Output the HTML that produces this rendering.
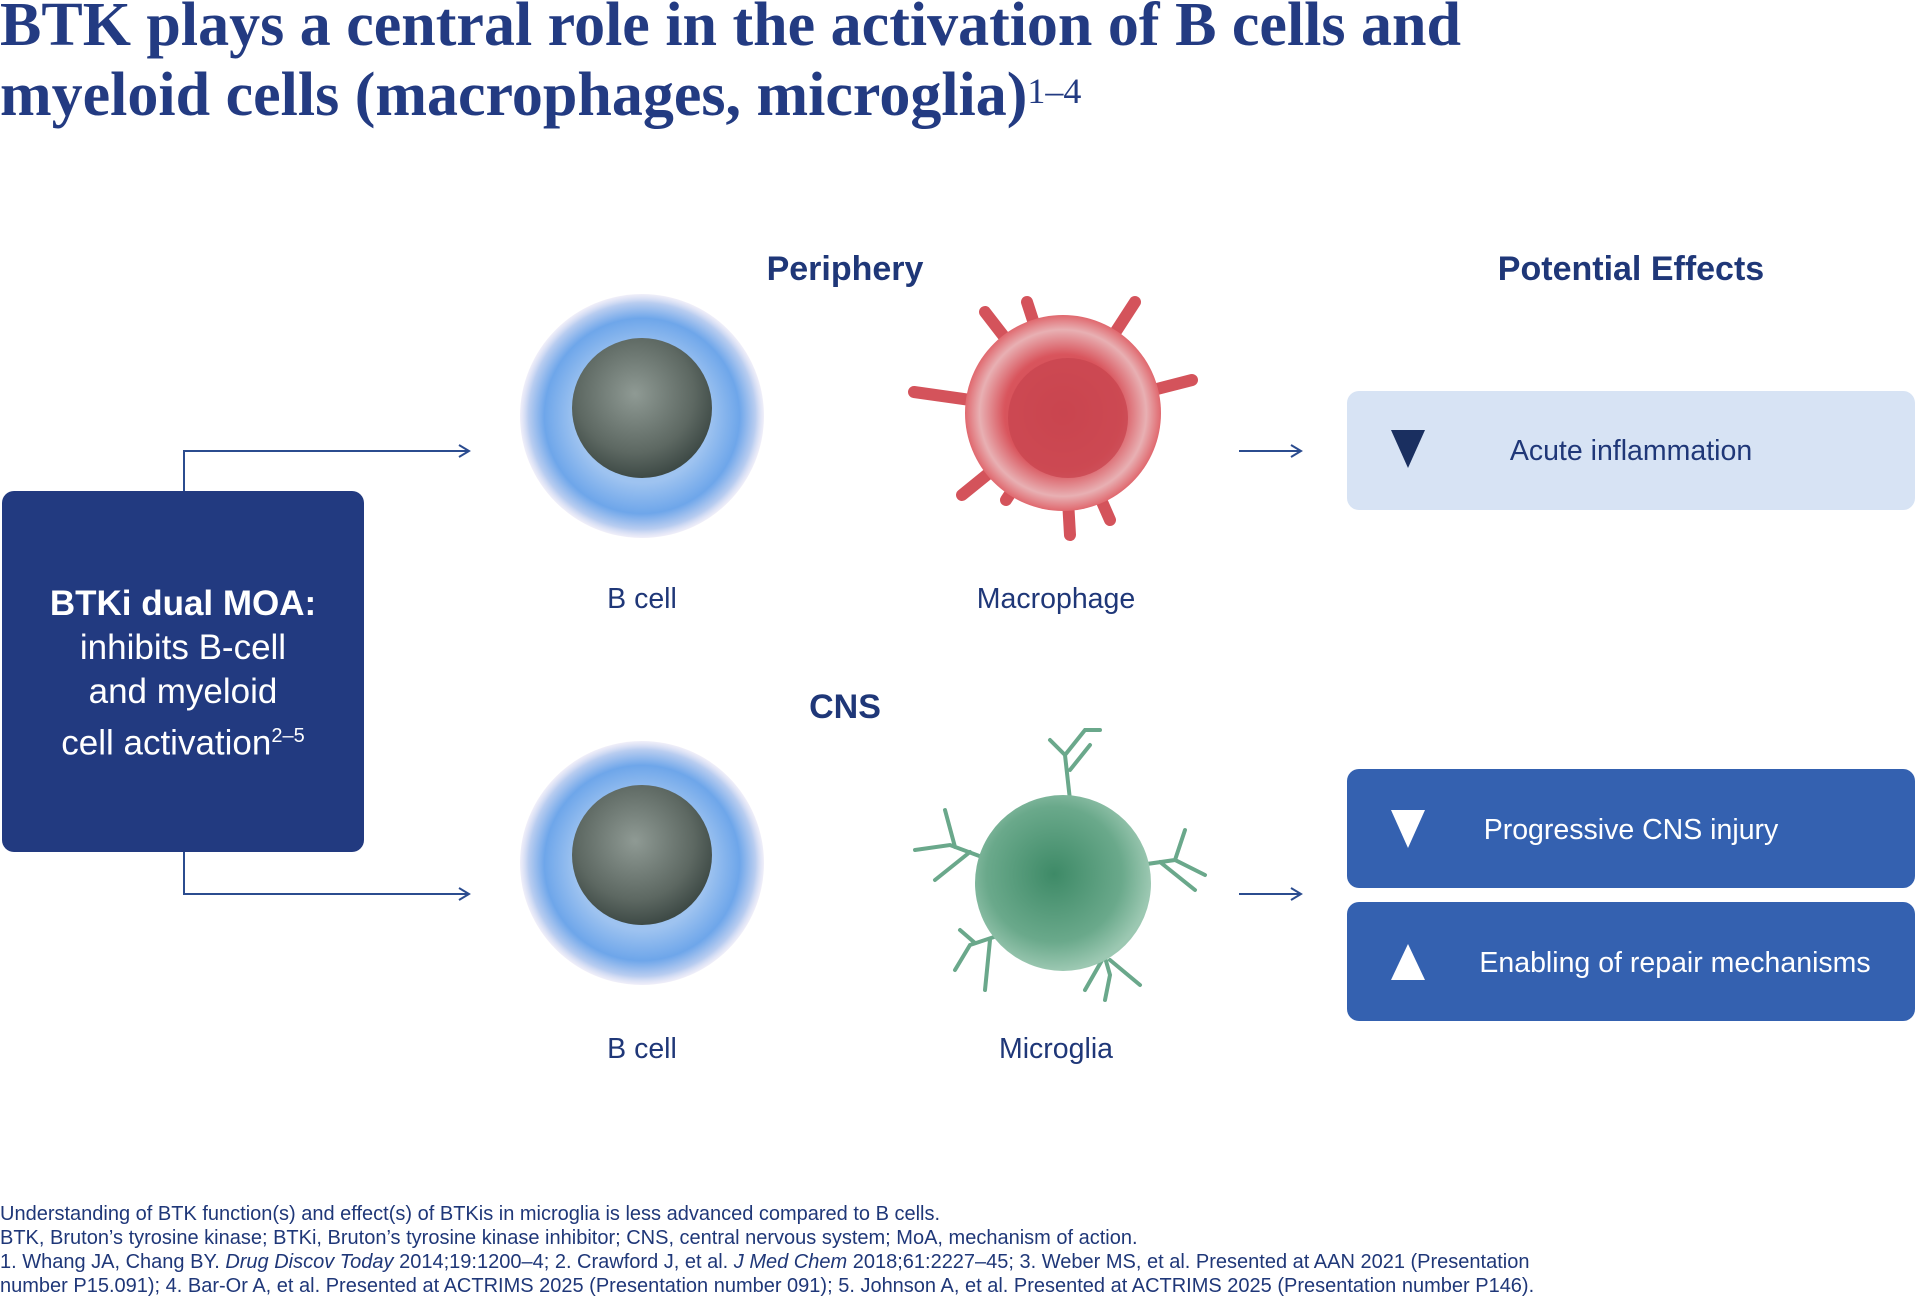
<!DOCTYPE html>
<html><head><meta charset="utf-8"><style>
html,body{margin:0;padding:0;background:#fff;}
body{width:1920px;height:1298px;position:relative;overflow:hidden;font-family:"Liberation Sans",sans-serif;color:#1f3778;}
.t{position:absolute;white-space:nowrap;}
h1{position:absolute;left:0;top:-10px;margin:0;font-family:"Liberation Serif",serif;font-weight:bold;font-size:62px;line-height:70px;color:#233b82;}
h1 sup{font-size:36px;vertical-align:top;position:relative;top:-4px;font-weight:normal;}
.hd{font-weight:bold;font-size:34px;color:#1f3778;transform:translateX(-50%);}
.lbl{font-size:28.5px;color:#1f3778;transform:translateX(-50%);}
.box{position:absolute;border-radius:12px;}
.eff{font-size:28.5px;position:absolute;white-space:nowrap;transform:translateX(-50%);}
.fn{position:absolute;left:0;font-size:20px;color:#1f3778;white-space:nowrap;}
</style></head><body>
<h1>BTK plays a central role in the activation of B cells and<br>myeloid cells (macrophages, microglia)<sup>1–4</sup></h1>

<div class="t hd" style="left:845px;top:250px;">Periphery</div>
<div class="t hd" style="left:1631px;top:250px;">Potential Effects</div>
<div class="t hd" style="left:845px;top:688px;">CNS</div>

<div class="box" style="left:2px;top:491px;width:362px;height:361px;background:#223a80;"></div>
<div class="t" style="left:183px;top:582px;transform:translateX(-50%);text-align:center;color:#fff;font-size:35px;line-height:44px;"><b>BTKi dual MOA:</b><br>inhibits B-cell<br>and myeloid<br>cell activation<sup style="font-size:20px;">2–5</sup></div>

<div class="box" style="left:1347px;top:391px;width:568px;height:119px;background:#d7e3f4;"></div>
<div class="box" style="left:1347px;top:769px;width:568px;height:119px;background:#3461b0;"></div>
<div class="box" style="left:1347px;top:902px;width:568px;height:119px;background:#3461b0;"></div>
<div class="eff" style="left:1631px;top:435px;color:#1f3778;">Acute inflammation</div>
<div class="eff" style="left:1631px;top:814px;color:#fff;">Progressive CNS injury</div>
<div class="eff" style="left:1675px;top:947px;color:#fff;">Enabling of repair mechanisms</div>

<div class="t lbl" style="left:642px;top:583px;">B cell</div>
<div class="t lbl" style="left:1056px;top:583px;">Macrophage</div>
<div class="t lbl" style="left:642px;top:1033px;">B cell</div>
<div class="t lbl" style="left:1056px;top:1033px;">Microglia</div>

<svg width="1920" height="1298" style="position:absolute;left:0;top:0;">
<defs>
<radialGradient id="bo" cx="50%" cy="50%" r="50%">
<stop offset="0.55" stop-color="#9ec3f0"/><stop offset="0.8" stop-color="#6ea6ea"/><stop offset="0.93" stop-color="#b9cdf0"/><stop offset="1" stop-color="#e6e4f5" stop-opacity="0.6"/></radialGradient>
<radialGradient id="bn" cx="45%" cy="40%" r="60%">
<stop offset="0" stop-color="#8f9a94"/><stop offset="0.7" stop-color="#5d6862"/><stop offset="1" stop-color="#3e4a46"/></radialGradient>
<radialGradient id="mr" cx="50%" cy="50%" r="50%">
<stop offset="0" stop-color="#c8404a"/><stop offset="0.6" stop-color="#d9555d"/><stop offset="0.85" stop-color="#e8b0b3"/><stop offset="1" stop-color="#e0686e"/></radialGradient>
<radialGradient id="gr" cx="45%" cy="45%" r="55%">
<stop offset="0" stop-color="#3e8a67"/><stop offset="0.7" stop-color="#6aa98b"/><stop offset="1" stop-color="#9cc8b2"/></radialGradient>
</defs>
<g fill="none" stroke="#2b4c8f" stroke-width="2">
<polyline points="184,491 184,451 468,451"/><polyline points="459,445 469,451 459,457"/>
<polyline points="184,852 184,894 468,894"/><polyline points="459,888 469,894 459,900"/>
<line x1="1239" y1="451" x2="1300" y2="451"/><polyline points="1291,445 1301,451 1291,457"/>
<line x1="1239" y1="894" x2="1300" y2="894"/><polyline points="1291,888 1301,894 1291,900"/>
</g>
<circle cx="642" cy="416" r="122" fill="url(#bo)"/>
<circle cx="642" cy="408" r="70" fill="url(#bn)"/>
<circle cx="642" cy="863" r="122" fill="url(#bo)"/>
<circle cx="642" cy="855" r="70" fill="url(#bn)"/>
<g stroke="#d4535b" stroke-width="12" stroke-linecap="round">
<line x1="1063" y1="413" x2="985" y2="312"/><line x1="1063" y1="413" x2="1027" y2="302"/>
<line x1="1063" y1="413" x2="1135" y2="302"/><line x1="1063" y1="413" x2="1192" y2="380"/>
<line x1="1063" y1="413" x2="914" y2="392"/><line x1="1063" y1="413" x2="962" y2="495"/>
<line x1="1063" y1="413" x2="1070" y2="535"/><line x1="1063" y1="413" x2="1110" y2="520"/>
<line x1="1063" y1="413" x2="1006" y2="500"/>
</g>
<circle cx="1063" cy="413" r="98" fill="url(#mr)"/>
<circle cx="1068" cy="418" r="60" fill="#c94650" opacity="0.8"/>
<g stroke="#6aa88b" stroke-width="4" fill="none" stroke-linecap="round">
<path d="M1070 800 L1065 755 L1050 740 M1065 755 L1085 730 L1100 730 M1070 770 L1090 745"/>
<path d="M990 860 L950 845 L915 850 M955 847 L945 810 M970 852 L935 880"/>
<path d="M1140 865 L1175 860 L1205 875 M1175 860 L1185 830 M1160 862 L1195 890"/>
<path d="M1000 935 L970 945 L955 970 M975 943 L960 930 M990 940 L985 990"/>
<path d="M1100 940 L1110 975 L1105 1000 M1110 960 L1140 985 M1105 955 L1085 990"/>
</g>
<circle cx="1063" cy="883" r="88" fill="url(#gr)"/>
<polygon points="1391,430 1425,430 1408,468" fill="#1a2f60"/>
<polygon points="1391,810 1425,810 1408,848" fill="#fff"/>
<polygon points="1391,980 1425,980 1408,944" fill="#fff"/>
</svg>

<div class="fn" style="top:1203px;">Understanding of BTK function(s) and effect(s) of BTKis in microglia is less advanced compared to B cells.</div>
<div class="fn" style="top:1227px;">BTK, Bruton’s tyrosine kinase; BTKi, Bruton’s tyrosine kinase inhibitor; CNS, central nervous system; MoA, mechanism of action.</div>
<div class="fn" style="top:1251px;">1. Whang JA, Chang BY. <i>Drug Discov Today</i> 2014;19:1200–4; 2. Crawford J, et al. <i>J Med Chem</i> 2018;61:2227–45; 3. Weber MS, et al. Presented at AAN 2021 (Presentation</div>
<div class="fn" style="top:1275px;">number P15.091); 4. Bar-Or A, et al. Presented at ACTRIMS 2025 (Presentation number 091); 5. Johnson A, et al. Presented at ACTRIMS 2025 (Presentation number P146).</div>
</body></html>
